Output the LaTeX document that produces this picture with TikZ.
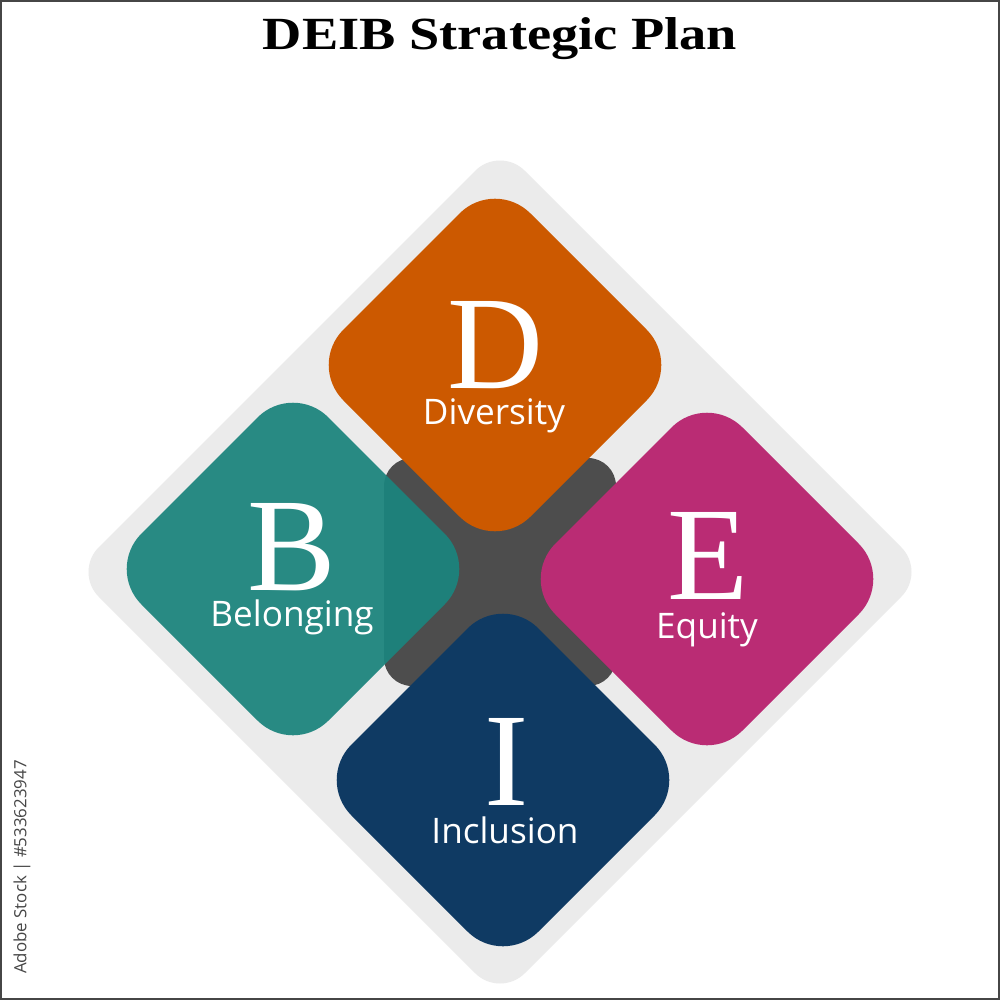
\documentclass[tikz,border=0pt]{standalone}
\usepackage{fontspec}
\setmainfont{Liberation Serif}
\newfontfamily\labelfont{Open Sans}
\definecolor{bggray}{RGB}{235,235,235}
\definecolor{darkc}{RGB}{77,77,77}
\definecolor{cD}{RGB}{204,89,0}
\definecolor{cB}{RGB}{28,132,125}
\definecolor{cE}{RGB}{186,44,116}
\definecolor{cI}{RGB}{15,58,99}
\definecolor{framec}{RGB}{70,70,70}
\tikzset{
  letter/.style={text=white, font=\fontsize{37.8}{40}\selectfont, anchor=base, inner sep=0pt, text depth=0pt},
  lbl/.style={text=white, font=\labelfont\fontsize{10}{12}\selectfont, anchor=base, inner sep=0pt},
  tile/.style={rounded corners=0.5cm},
}
\begin{document}
\begin{tikzpicture}[x=0.01cm,y=-0.01cm]
\useasboundingbox (0,0) rectangle (1000,1000);
\fill[white] (0,0) rectangle (1000,1000);
\draw[framec, line width=0.02cm] (1,1) rectangle (999,999);
% title
\node[anchor=base, inner sep=0pt, font=\bfseries\fontsize{13.1}{15}\selectfont] (title) at (500,49) {\scalebox{1.18}[1]{DEIB Strategic Plan}};
% background diamond and dark centre
\begin{scope}[shift={(500,572)}]
  \fill[bggray, rounded corners=0.35cm] (0,-426) -- (426,0) -- (0,426) -- (-426,0) -- cycle;
  \fill[darkc, rounded corners=0.28cm] (-116,-114) rectangle (116,114);
\end{scope}
% D
\begin{scope}[shift={(495,365)}]
  \fill[cD, tile] (0,-187) -- (187,0) -- (0,187) -- (-187,0) -- cycle;
\end{scope}
% E
\begin{scope}[shift={(707,579)}]
  \fill[cE, tile] (0,-187) -- (187,0) -- (0,187) -- (-187,0) -- cycle;
\end{scope}
% I
\begin{scope}[shift={(503,780)}]
  \fill[cI, tile] (0,-187) -- (187,0) -- (0,187) -- (-187,0) -- cycle;
\end{scope}
% B
\begin{scope}[shift={(293,569)}]
  \fill[cB, tile, fill opacity=0.94] (0,-187) -- (187,0) -- (0,187) -- (-187,0) -- cycle;
\end{scope}
% texts
\node[letter] (Dl) at (495,388) {D};
\node[lbl] (Dt) at (494,424) {Diversity};
\node[letter] (Bl) at (292,590) {B};
\node[lbl] (Bt) at (292,626) {Belonging};
\node[letter] (El) at (708,599) {E};
\node[lbl] (Et) at (707,638) {Equity};
\node[letter] (Il) at (507,805) {I};
\node[lbl] (It) at (505,843) {Inclusion};
% stock label
\node[rotate=90, inner sep=0pt, text=framec, font=\labelfont\fontsize{4.8}{6}\selectfont] (stock) at (22,867) {Adobe Stock | \#533623947};
\end{tikzpicture}
\end{document}
